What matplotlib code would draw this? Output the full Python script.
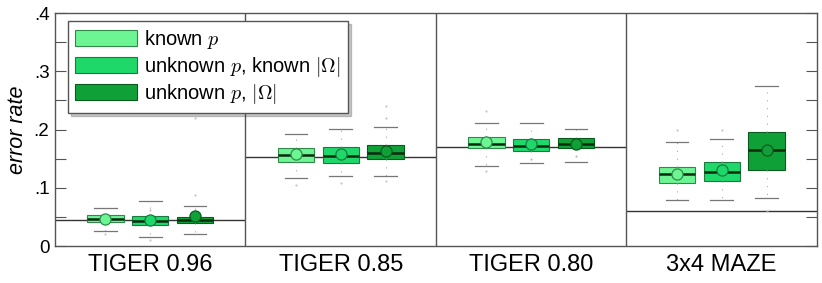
import matplotlib
matplotlib.use('Agg')
import matplotlib.pyplot as plt
from matplotlib.patches import Patch

plt.rcParams['font.family'] = ['Liberation Sans', 'DejaVu Sans']
plt.rcParams['mathtext.fontset'] = 'cm'

groups = ['TIGER 0.96', 'TIGER 0.85', 'TIGER 0.80', '3x4 MAZE']
series = ['known $p$', 'unknown $p$, known $|\\Omega|$', 'unknown $p$, $|\\Omega|$']
colors = ['#6cf592', '#1fd86a', '#0fa138']
edges = ['#2f8a4a', '#1a7a40', '#0a5a1e']

# reference level per group
baseline = [0.044, 0.152, 0.170, 0.0595]

# box statistics, one list per series, one entry per group
q1 = [[0.0406, 0.145, 0.1675, 0.1075],
      [0.0366, 0.142, 0.163, 0.1114],
      [0.039, 0.150, 0.1675, 0.130]]
med = [[0.046, 0.1566, 0.175, 0.123],
       [0.043, 0.155, 0.172, 0.1274],
       [0.044, 0.160, 0.1755, 0.165]]
q3 = [[0.0537, 0.1675, 0.188, 0.135],
      [0.051, 0.170, 0.183, 0.1446],
      [0.049, 0.1726, 0.186, 0.195]]
whislo = [[0.026, 0.117, 0.138, 0.079],
          [0.016, 0.120, 0.142, 0.079],
          [0.021, 0.120, 0.145, 0.082]]
whishi = [[0.066, 0.193, 0.211, 0.178],
          [0.077, 0.201, 0.211, 0.183],
          [0.069, 0.204, 0.2006, 0.274]]
means = [[0.047, 0.158, 0.179, 0.1234],
         [0.044, 0.158, 0.175, 0.130],
         [0.051, 0.163, 0.1755, 0.165]]
fliers = [[[0.021], [0.105], [0.231, 0.128], [0.20]],
          [[0.062, 0.010], [0.108], [0.150], [0.20]],
          [[0.087, 0.22], [0.22, 0.24, 0.111], [0.155], [0.06]]]

offsets = [-0.235, 0.0, 0.235]

fig = plt.figure(figsize=(8.22, 2.83), dpi=100)
ax = fig.add_axes([0.0669, 0.1307, 0.927, 0.8233])

for s in range(3):
    stats = []
    for g in range(4):
        stats.append(dict(q1=q1[s][g], med=med[s][g], q3=q3[s][g],
                          whislo=whislo[s][g], whishi=whishi[s][g],
                          mean=means[s][g], fliers=fliers[s][g]))
    pos = [g + offsets[s] for g in range(4)]
    ax.bxp(stats, positions=pos, widths=0.19, patch_artist=True,
           showmeans=True, manage_ticks=False,
           boxprops=dict(facecolor=colors[s], edgecolor=edges[s], linewidth=0.8),
           medianprops=dict(color='#0a2a10', linewidth=1.8),
           meanprops=dict(marker='o', markersize=8, markerfacecolor=colors[s],
                          markeredgecolor=edges[s], markeredgewidth=0.9),
           whiskerprops=dict(color='#aaaaaa', linewidth=0.8,
                             linestyle=(0, (1, 6))),
           capprops=dict(color='#777777', linewidth=0.9),
           capwidths=0.12,
           flierprops=dict(marker='.', markersize=1.0, markerfacecolor='#bbbbbb',
                           markeredgecolor='#bbbbbb'))

for g in range(4):
    ax.hlines(baseline[g], g - 0.5, g + 0.5, color='#333333', linewidth=1.0,
              zorder=1)
for x in [0.5, 1.5, 2.5]:
    ax.axvline(x, color='#555555', linewidth=1.0, zorder=1)

ax.set_xlim(-0.5, 3.5)
ax.set_ylim(0, 0.4)
ax.set_xticks(range(4))
ax.set_xticklabels(groups, fontsize=17)
ax.tick_params(axis='x', length=0, pad=6)
ax.set_yticks([0, 0.05, 0.1, 0.15, 0.2, 0.25, 0.3, 0.35, 0.4])
ax.set_yticklabels(['0', '', '.1', '', '.2', '', '.3', '', '.4'], fontsize=13.5)
ax.tick_params(axis='y', direction='in', length=8, color='#555555',
               right=True, pad=4)
for sp in ax.spines.values():
    sp.set_color('#555555')
    sp.set_linewidth(1.0)
ax.set_ylabel('error rate', fontsize=15.5, style='italic', labelpad=4)

handles = [Patch(facecolor=colors[s], edgecolor=edges[s], linewidth=0.8)
           for s in range(3)]
leg = ax.legend(handles, series, loc='upper left', bbox_to_anchor=(0.017, 0.966),
                borderaxespad=0, fontsize=14.5, handlelength=3.1,
                handleheight=0.85, labelspacing=0.18, handletextpad=0.35,
                borderpad=0.35, fancybox=False, shadow={'alpha': 0.3},
                framealpha=1)
leg.get_frame().set_edgecolor('#555555')
leg.get_frame().set_linewidth(1.0)

fig.savefig('out.png', dpi=100)
